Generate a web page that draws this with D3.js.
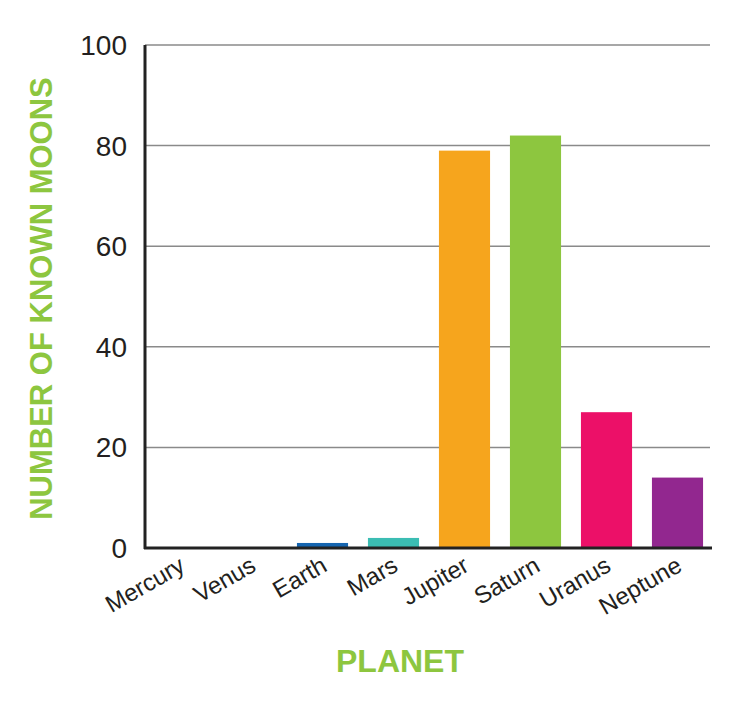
<!DOCTYPE html>
<html>
<head>
<meta charset="utf-8">
<script src="https://cdn.jsdelivr.net/npm/d3@7"></script>
<style>
  body { margin: 0; background: #fff; }
  text { font-family: "Liberation Sans", Arial, sans-serif; }
</style>
</head>
<body>
<svg width="750" height="705"></svg>
<script>
const planets = ["Mercury", "Venus", "Earth", "Mars", "Jupiter", "Saturn", "Uranus", "Neptune"];
const moons = [0, 0, 1, 2, 79, 82, 27, 14];
const colors = ["#9aa0a6", "#c9a96b", "#1565b0", "#3bbdb3", "#f6a51d", "#8dc63f", "#ec1068", "#92278f"];
const yTicks = [0, 20, 40, 60, 80, 100];

const svg = d3.select("svg");
const plotLeft = 145, plotRight = 713, plotTop = 45, plotBottom = 548;

const x = d3.scaleBand().domain(planets).range([plotLeft, plotRight]).paddingInner(0.28).paddingOuter(0.14);
const y = d3.scaleLinear().domain([0, 100]).range([plotBottom, plotTop]);

// grid lines
svg.selectAll(".grid").data(yTicks.slice(1)).join("line")
  .attr("x1", plotLeft).attr("x2", 710)
  .attr("y1", d => y(d)).attr("y2", d => y(d))
  .attr("stroke", "#8a8a8a").attr("stroke-width", 1.5);

// bars
svg.selectAll(".bar").data(planets).join("rect")
  .attr("x", d => x(d))
  .attr("width", x.bandwidth())
  .attr("y", (d, i) => y(moons[i]))
  .attr("height", (d, i) => plotBottom - y(moons[i]))
  .attr("fill", (d, i) => colors[i]);

// axes lines
svg.append("line").attr("x1", plotLeft).attr("x2", plotLeft).attr("y1", plotTop).attr("y2", plotBottom + 1)
  .attr("stroke", "#222").attr("stroke-width", 3);
svg.append("line").attr("x1", plotLeft - 1).attr("x2", 712).attr("y1", plotBottom).attr("y2", plotBottom)
  .attr("stroke", "#222").attr("stroke-width", 3);

// y tick labels
svg.selectAll(".yl").data(yTicks).join("text")
  .attr("x", 127).attr("y", d => y(d) + 10)
  .attr("text-anchor", "end")
  .attr("font-size", 28)
  .attr("fill", "#231f20")
  .text(d => d);

// x tick labels, rotated
svg.selectAll(".xl").data(planets).join("text")
  .attr("transform", d => `translate(${x(d) + x.bandwidth() / 2 + 6},${plotBottom + 22}) rotate(-30)`)
  .attr("text-anchor", "end")
  .attr("font-size", 24)
  .attr("fill", "#231f20")
  .text(d => d);

// axis titles
svg.append("text")
  .attr("transform", `translate(52,${(plotTop + plotBottom) / 2 + 2}) rotate(-90)`)
  .attr("text-anchor", "middle")
  .attr("font-size", 31).attr("font-weight", "bold")
  .attr("fill", "#8dc63f")
  .text("NUMBER OF KNOWN MOONS");

svg.append("text")
  .attr("x", 400).attr("y", 672)
  .attr("text-anchor", "middle")
  .attr("font-size", 32).attr("font-weight", "bold")
  .attr("fill", "#8dc63f")
  .text("PLANET");
</script>
</body>
</html>
